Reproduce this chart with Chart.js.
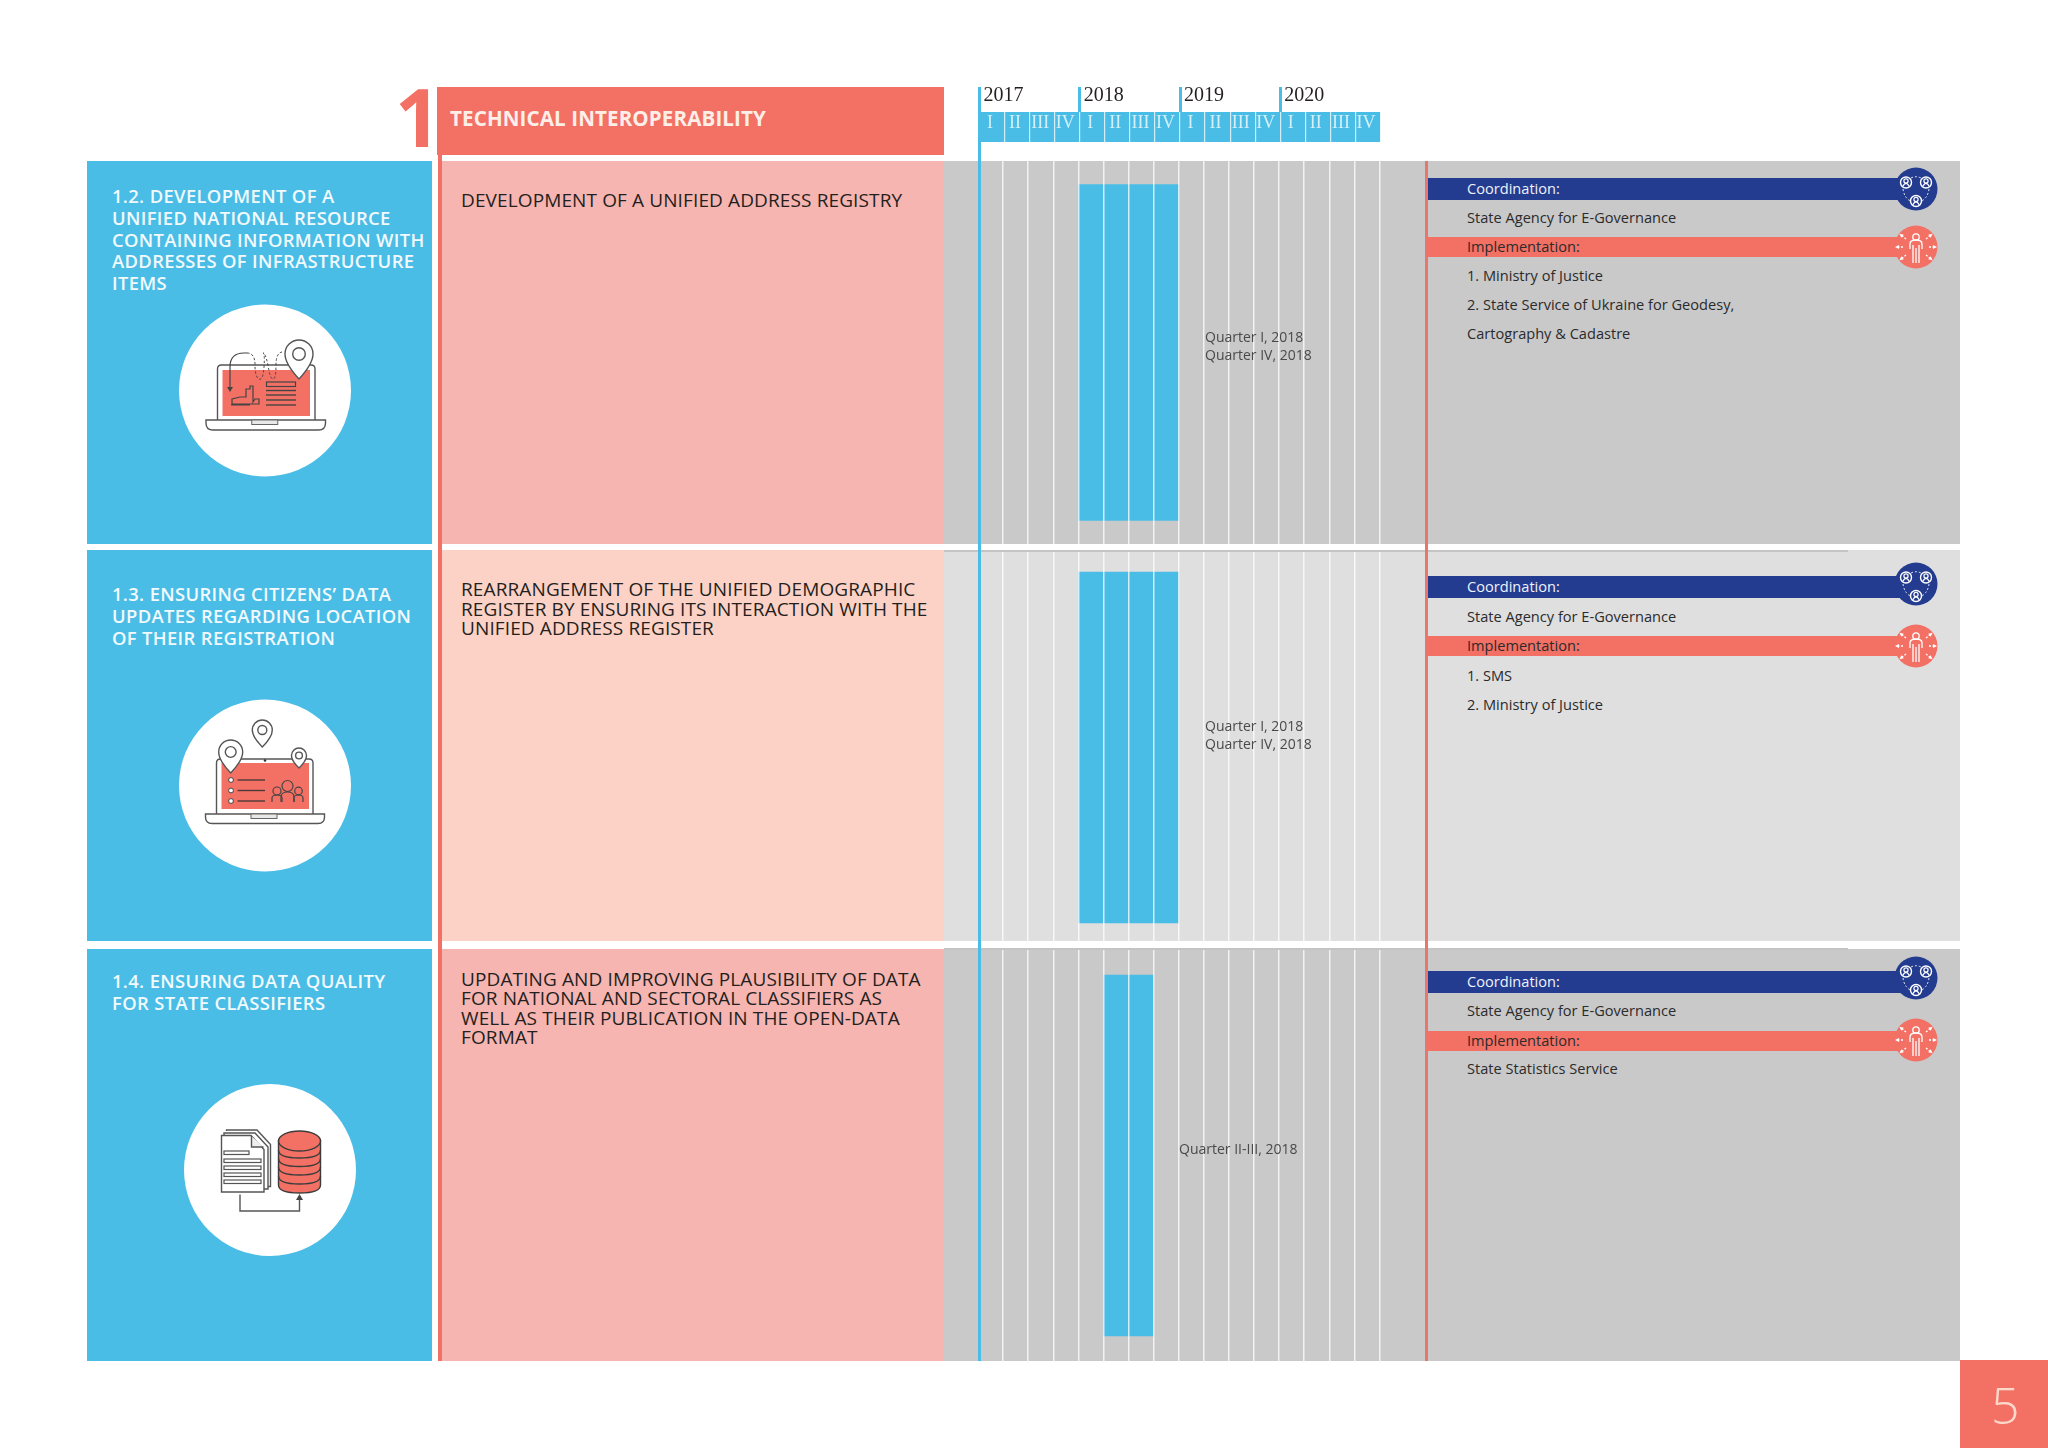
<!DOCTYPE html>
<html>
<head>
<meta charset="utf-8">
<title>Technical interoperability</title>
<script src="https://cdn.jsdelivr.net/npm/chart.js@4"></script>
<style>
html, body { margin: 0; padding: 0; background: #fff; }
#page { position: relative; width: 2048px; height: 1448px; overflow: hidden; font-family: "Open Sans", sans-serif; }
.box { position: absolute; }
.txt { position: absolute; white-space: nowrap; transform: translateY(-50%); line-height: 1; z-index: 2; }
.title { color: #f2fafd; font-size: 18.4px; font-weight: 600; letter-spacing: 0.35px; }
.task { color: #231f20; font-size: 19px; letter-spacing: 0.12px; }
.body { color: #2b2b2b; font-size: 14.6px; margin-top: -1px; }
.head-blue { color: #eef3fb; font-size: 14.6px; margin-top: -1px; }
.note { color: #4a4a4a; font-size: 14px; }
canvas { position: absolute; }
svg { position: absolute; left: 0; top: 0; z-index: 2; }
</style>
</head>
<body>
<div id="page"></div>
<script>
// Timeline
const years = ['2017', '2018', '2019', '2020'];
const quarterLabels = ['I', 'II', 'III', 'IV', 'I', 'II', 'III', 'IV', 'I', 'II', 'III', 'IV', 'I', 'II', 'III', 'IV'];

// Start / end of each activity, in quarters counted from Q1 2017
const row1Span = [4, 8];
const row2Span = [4, 8];
const row3Span = [5, 7];

const row1Title = ['1.2. DEVELOPMENT OF A', 'UNIFIED NATIONAL RESOURCE', 'CONTAINING INFORMATION WITH', 'ADDRESSES OF INFRASTRUCTURE', 'ITEMS'];
const row2Title = ['1.3. ENSURING CITIZENS\u2019 DATA', 'UPDATES REGARDING LOCATION', 'OF THEIR REGISTRATION'];
const row3Title = ['1.4. ENSURING DATA QUALITY', 'FOR STATE CLASSIFIERS'];

const row1Task = ['DEVELOPMENT OF A UNIFIED ADDRESS REGISTRY'];
const row2Task = ['REARRANGEMENT OF THE UNIFIED DEMOGRAPHIC', 'REGISTER BY ENSURING ITS INTERACTION WITH THE', 'UNIFIED ADDRESS REGISTER'];
const row3Task = ['UPDATING AND IMPROVING PLAUSIBILITY OF DATA', 'FOR NATIONAL AND SECTORAL CLASSIFIERS AS', 'WELL AS THEIR PUBLICATION IN THE OPEN-DATA', 'FORMAT'];

const row1Notes = ['Quarter I, 2018', 'Quarter IV, 2018'];
const row2Notes = ['Quarter I, 2018', 'Quarter IV, 2018'];
const row3Notes = ['Quarter II-III, 2018'];

const coordination = ['State Agency for E-Governance'];
const row1Impl = ['1. Ministry of Justice', '2. State Service of Ukraine for Geodesy,', 'Cartography & Cadastre'];
const row2Impl = ['1. SMS', '2. Ministry of Justice'];
const row3Impl = ['State Statistics Service'];

const BLUE = '#49bde6';
const RED = '#f37065';
const NAVY = '#243c8f';
const page = document.getElementById('page');

function box(x, y, w, h, color) {
    let el = document.createElement('div');
    el.className = 'box';
    el.style.cssText = 'left:' + x + 'px;top:' + y + 'px;width:' + w + 'px;height:' + h + 'px;background:' + color;
    page.appendChild(el);
    return el;
}

function text(x, y, str, cls, extra) {
    let el = document.createElement('div');
    el.className = 'txt ' + cls;
    el.style.left = x + 'px';
    el.style.top = y + 'px';
    if (extra) el.style.cssText += extra;
    el.textContent = str;
    page.appendChild(el);
    return el;
}

function lines(x, y, step, arr, cls) {
    arr.forEach(function (s, i) { text(x, y + i * step, s, cls); });
}

// Backgrounds of the three rows
function rowBackground(top, bottom, pink, grey) {
    box(87, top, 345, bottom - top, BLUE);
    box(442, top, 502, bottom - top, pink);
    box(944, top, 1016, bottom - top, grey);
}
rowBackground(161, 544, '#f6b5b1', '#c9c9c9');
rowBackground(550, 941, '#fdd2c6', '#dfdfdf');
rowBackground(949, 1361, '#f6b5b1', '#c9c9c9');
box(944, 550, 904, 2, '#c4c4c4');
box(944, 948, 904, 2, '#c4c4c4');

// Section header
box(437, 87, 507, 68, RED);
box(438, 155, 4, 1206, RED);
text(395, 116, '1', '', 'font-size:80px;font-weight:700;color:' + RED);
text(450, 118, 'TECHNICAL INTEROPERABILITY', '', 'font-size:20.6px;font-weight:700;color:#fdeee8;letter-spacing:0.1px');

lines(112, 196, 21.8, row1Title, 'title');
lines(112, 594, 21.8, row2Title, 'title');
lines(112, 981, 21.8, row3Title, 'title');

lines(461, 200, 19.5, row1Task, 'task');
lines(461, 589, 19.5, row2Task, 'task');
lines(461, 978.5, 19.5, row3Task, 'task');

lines(1205, 337, 17.5, row1Notes, 'note');
lines(1205, 726, 17.5, row2Notes, 'note');
lines(1179, 1149, 17.5, row3Notes, 'note');

// Right hand column: coordination and implementation bands
function actors(blueTop, redTop, coordY, implY, impl) {
    box(1427, blueTop, 489, 22, NAVY);
    box(1427, redTop, 489, 20, RED);
    text(1467, blueTop + 11, 'Coordination:', 'head-blue');
    lines(1467, coordY, 29, coordination, 'body');
    text(1467, redTop + 10, 'Implementation:', 'body');
    lines(1467, implY, 29, impl, 'body');
}
actors(178, 237, 217.5, 276, row1Impl);
actors(576, 636, 617, 675.5, row2Impl);
actors(971, 1031, 1011, 1069, row3Impl);

// Page number
box(1960, 1360, 88, 88, RED);
text(1991, 1405, '5', '', 'font-size:50px;font-weight:300;color:#fdd9cb');

// Icons
function person(x, y, r, c) {
    return '<circle cx="' + x + '" cy="' + y + '" r="' + r + '" fill="none" stroke="' + c + '" stroke-width="1.4"/>' +
        '<circle cx="' + x + '" cy="' + (y - 1.5) + '" r="' + (r * 0.38) + '" fill="none" stroke="' + c + '" stroke-width="1.2"/>' +
        '<path d="M' + (x - r * 0.6) + ' ' + (y + r * 0.7) + 'q' + (r * 0.6) + ' ' + (-r * 1.1) + ' ' + (r * 1.2) + ' 0" fill="none" stroke="' + c + '" stroke-width="1.2"/>';
}
function navyBadge(cy) {
    return '<circle cx="1916" cy="' + cy + '" r="21.5" fill="' + NAVY + '"/>' +
        person(1906, cy - 6.5, 5.5, '#fff') + person(1926, cy - 6.5, 5.5, '#fff') + person(1916, cy + 12, 5.5, '#fff') +
        '<path d="M1911 ' + (cy - 11) + 'q5 -2.5 10 0M1903 ' + (cy) + 'q1 8 7 12M1929 ' + (cy) + 'q-1 8 -7 12" fill="none" stroke="#dfe6f6" stroke-width="1" stroke-dasharray="2 2"/>';
}
function redBadge(cy) {
    let c = '#fff';
    let arrows = '';
    [[-19, 0, -13, 0], [19, 0, 13, 0], [-15, -12, -10, -8], [15, -12, 10, -8], [-15, 12, -10, 8], [15, 12, 10, 8]].forEach(function (a) {
        let dx = a[0] - a[2], dy = a[1] - a[3];
        let len = Math.sqrt(dx * dx + dy * dy);
        dx /= len;
        dy /= len;
        let tx = 1916 + a[0], ty = cy + a[1];
        arrows += '<path d="M' + (1916 + a[2]) + ' ' + (cy + a[3]) + 'L' + tx + ' ' + ty + '" stroke="' + c + '" stroke-width="1.3" stroke-dasharray="2 1.5" fill="none"/>' +
            '<path d="M' + (tx + dx * 2) + ' ' + (ty + dy * 2) + 'L' + (tx - dx * 2 - dy * 2) + ' ' + (ty - dy * 2 + dx * 2) + 'L' + (tx - dx * 2 + dy * 2) + ' ' + (ty - dy * 2 - dx * 2) + 'z" fill="' + c + '"/>';
    });
    return '<circle cx="1916" cy="' + cy + '" r="21.5" fill="' + RED + '"/>' + arrows +
        '<circle cx="1916" cy="' + (cy - 10) + '" r="3.2" fill="none" stroke="' + c + '" stroke-width="1.3"/>' +
        '<path d="M1910 ' + (cy + 2) + 'v-5q0 -4 6 -4t6 4v5M1913 ' + (cy - 2) + 'v18M1916 ' + (cy + 1) + 'v15M1919 ' + (cy - 2) + 'v18" fill="none" stroke="' + c + '" stroke-width="1.3"/>';
}
function pin(x, y, r, tip) {
    return '<path d="M' + (x - r) + ' ' + y + 'a' + r + ' ' + r + ' 0 1 1 ' + (2 * r) + ' 0q0 ' + (r * 0.7) + ' ' + (-r) + ' ' + (tip - y) + 'q' + (-r) + ' ' + (-(tip - y) + r * 0.7) + ' ' + (-r) + ' ' + (-(tip - y)) + 'z" fill="#fff" stroke="#555" stroke-width="1.4"/>' +
        '<circle cx="' + x + '" cy="' + y + '" r="' + (r * 0.45) + '" fill="#fff" stroke="#555" stroke-width="1.4"/>';
}
function laptop(x1, x2, top, redX1, redX2, redTop, redBottom, baseX1, baseX2, baseTop, baseBottom) {
    let mid = (baseX1 + baseX2) / 2 - 1;
    return '<path d="M' + x1 + ' ' + baseTop + 'V' + (top + 4) + 'q0 -4 4 -4H' + (x2 - 4) + 'q4 0 4 4V' + baseTop + '" fill="#fff" stroke="#555" stroke-width="1.4"/>' +
        '<rect x="' + redX1 + '" y="' + redTop + '" width="' + (redX2 - redX1) + '" height="' + (redBottom - redTop) + '" fill="' + RED + '"/>' +
        '<path d="M' + baseX1 + ' ' + baseTop + 'H' + baseX2 + 'v3q0 ' + (baseBottom - baseTop - 3) + ' -' + (baseBottom - baseTop - 3) + ' ' + (baseBottom - baseTop - 3) + 'H' + (baseX1 + baseBottom - baseTop - 3) + 'q-' + (baseBottom - baseTop - 3) + ' 0 -' + (baseBottom - baseTop - 3) + ' -' + (baseBottom - baseTop - 3) + 'z" fill="#fff" stroke="#555" stroke-width="1.4"/>' +
        '<rect x="' + (mid - 13) + '" y="' + baseTop + '" width="26" height="4.5" fill="#e8e8e8" stroke="#666" stroke-width="1"/>';
}
function hlines(x1, x2, ys, c) {
    let s = '';
    ys.forEach(function (y) { s += '<path d="M' + x1 + ' ' + y + 'H' + x2 + '" stroke="' + c + '" stroke-width="1.4"/>'; });
    return s;
}

let svg = '<svg width="2048" height="1448" viewBox="0 0 2048 1448">';
// circle 1
svg += '<circle cx="265" cy="390.5" r="86" fill="#fff"/>';
svg += laptop(217.5, 315, 365, 222.5, 310, 370, 416, 206, 325.5, 420, 430);
svg += '<path d="M247 353H244q-14 0 -14 14V388" fill="none" stroke="#444" stroke-width="1.2"/><path d="M227 387h6l-3 5z" fill="#444"/>';
svg += '<path d="M247 353q8 0 8 12t4 14t5 -12t-1 -14q2 -1 5 12q2 14 5 14q3 0 3 -14q0 -12 6 -13" fill="none" stroke="#444" stroke-width="1" stroke-dasharray="2.5 2"/>';
svg += '<path d="M232 404v-5l8 -2h6v-8h4v-3h3v16l2 -3h4v5zM231 405h19" fill="none" stroke="#444" stroke-width="1.2"/>';
svg += '<rect x="266.5" y="382" width="29" height="4.5" fill="none" stroke="#444" stroke-width="1.2"/>' + hlines(266, 296, [390.5, 395, 400, 405], '#444');
svg += pin(299, 354, 14, 379);
// circle 2
svg += '<circle cx="265" cy="785.5" r="86" fill="#fff"/>';
svg += laptop(216.5, 313, 759, 221.5, 309, 763, 809, 205.5, 324.5, 814, 823.5);
svg += hlines(237.5, 265, [780, 790.5, 801], '#4a3a3a');
[780, 790.5, 801].forEach(function (y) { svg += '<circle cx="231" cy="' + y + '" r="2.4" fill="#fff" stroke="#444"/>'; });
svg += '<circle cx="277" cy="791" r="4" fill="none" stroke="#444" stroke-width="1.2"/><path d="M272 802v-4q0 -3 5 -3t5 3v4" fill="none" stroke="#444" stroke-width="1.2"/>';
svg += '<circle cx="287.5" cy="786" r="5.5" fill="none" stroke="#444" stroke-width="1.2"/><path d="M281 802v-5q0 -5 6.5 -5t6.5 5v5" fill="none" stroke="#444" stroke-width="1.2"/>';
svg += '<circle cx="298.5" cy="791" r="3.8" fill="none" stroke="#444" stroke-width="1.2"/><path d="M294 802v-4q0 -3 4.5 -3t4.5 3v4" fill="none" stroke="#444" stroke-width="1.2"/>';
svg += pin(230.7, 752, 12, 773) + pin(262.3, 730, 10, 747) + pin(299, 755.5, 7.5, 768);
svg += '<circle cx="265" cy="760.5" r="1.3" fill="#333"/>';
// circle 3
svg += '<circle cx="270" cy="1170" r="86" fill="#fff"/>';
svg += '<path d="M226.5 1131v-1H257l13.5 14.5v42h-3" fill="#fff" stroke="#555" stroke-width="1.4"/>';
svg += '<path d="M224 1135v-2h31l13 14v42h-4" fill="#fff" stroke="#555" stroke-width="1.4"/>';
svg += '<path d="M221.5 1135.5H251l13 14v42.5H221.5z" fill="#fff" stroke="#555" stroke-width="1.4"/><path d="M251.5 1136v11h12" fill="#eee" stroke="#555" stroke-width="1.4"/>';
[[224, 249, 1151], [224, 261, 1159], [224, 261, 1166], [224, 261, 1173], [224, 261, 1180]].forEach(function (l) {
    svg += '<rect x="' + l[0] + '" y="' + (l[2]) + '" width="' + (l[1] - l[0]) + '" height="3.5" fill="#fff" stroke="#555" stroke-width="1.2"/>';
});
svg += '<path d="M278.5 1141v44q0 8 21 8t21 -8v-44z" fill="' + RED + '" stroke="#3c3c3c" stroke-width="1.4"/>';
svg += '<ellipse cx="299.5" cy="1141" rx="21" ry="10" fill="' + RED + '" stroke="#3c3c3c" stroke-width="1.4"/>';
[1150, 1158.5, 1167, 1176].forEach(function (y) {
    svg += '<path d="M278.5 ' + y + 'q0 8 21 8t21 -8" fill="none" stroke="#3c3c3c" stroke-width="1.4"/>';
});
svg += '<path d="M240 1194.5V1211H299.5V1198" fill="none" stroke="#555" stroke-width="1.4"/><path d="M296 1200h7l-3.5 -6z" fill="#444"/>';
svg += navyBadge(189) + redBadge(247) + navyBadge(584) + redBadge(646) + navyBadge(978) + redBadge(1040);
svg += '</svg>';
page.insertAdjacentHTML('beforeend', svg);

// Charts
function newCanvas(x, y, w, h) {
    let c = document.createElement('canvas');
    c.width = w;
    c.height = h;
    c.style.left = x + 'px';
    c.style.top = y + 'px';
    c.style.width = w + 'px';
    c.style.height = h + 'px';
    page.appendChild(c);
    return c;
}

// Fills the plot area, giving the coloured strip behind the quarter labels
const bandPlugin = {
    id: 'band',
    beforeDraw: function (chart) {
        let a = chart.chartArea;
        chart.ctx.fillStyle = BLUE;
        chart.ctx.fillRect(a.left, a.top, a.right - a.left, a.bottom - a.top);
    }
};

new Chart(newCanvas(970, 80, 420, 70), {
    type: 'bar',
    data: { labels: quarterLabels, datasets: [] },
    plugins: [bandPlugin],
    options: {
        responsive: false,
        animation: false,
        layout: { padding: { top: 32, bottom: 8, left: 9.5, right: 9.5 } },
        plugins: { legend: { display: false }, tooltip: { enabled: false } },
        scales: {
            x: {
                type: 'category',
                position: 'bottom',
                offset: true,
                border: { display: false },
                grid: { color: 'rgba(255,255,255,0.75)', lineWidth: 1.2, drawTicks: false, offset: true },
                // mirrored so the labels sit inside the strip and are not clipped to the axis box
                ticks: { color: '#d3f0fa', font: { family: 'Liberation Serif', size: 18 }, mirror: true, padding: 8, labelOffset: -2, autoSkip: false, maxRotation: 0 },
                afterFit: function (s) { s.height = 0; }
            },
            years: {
                type: 'linear',
                position: 'top',
                min: 0,
                max: 16,
                offset: false,
                border: { display: false },
                grid: {
                    offset: false,
                    drawOnChartArea: false,
                    tickLength: 25,
                    tickWidth: 3,
                    tickColor: function (ctx) { return ctx.tick && ctx.tick.value === 16 ? 'transparent' : BLUE; }
                },
                ticks: {
                    stepSize: 4,
                    align: 'start',
                    labelOffset: 4,
                    mirror: true,
                    padding: -28.6,
                    color: '#231f20',
                    font: { family: 'Liberation Serif', size: 20 },
                    maxRotation: 0,
                    callback: function (v) { return years[v / 4] || ''; }
                },
                afterFit: function (s) { s.height = 0; }
            },
            y: { display: false }
        }
    }
});

function ganttRow(label, span, top, height, thickness) {
    return new Chart(newCanvas(968, top, 420, height), {
        type: 'bar',
        data: {
            labels: [label],
            datasets: [{ data: [span], backgroundColor: BLUE, barThickness: thickness }]
        },
        options: {
            indexAxis: 'y',
            responsive: false,
            animation: false,
            layout: { padding: { left: 10, right: 8.5 } },
            plugins: { legend: { display: false }, tooltip: { enabled: false } },
            scales: {
                x: {
                    type: 'linear',
                    min: 0,
                    max: 16,
                    border: { display: false },
                    grid: {
                        z: 1,
                        drawTicks: false,
                        lineWidth: 1.5,
                        color: function (ctx) { return ctx.tick && ctx.tick.value === 0 ? 'transparent' : 'rgba(255,255,255,0.75)'; }
                    },
                    ticks: { display: false, stepSize: 1 }
                },
                y: { display: false }
            }
        }
    });
}
ganttRow('1.2', row1Span, 161, 383, 336);
ganttRow('1.3', row2Span, 552, 391, 351);
ganttRow('1.4', row3Span, 950, 411, 361);

// Vertical rules run over the rows
box(978, 87, 3, 1274, BLUE);
box(1424.5, 161, 3, 1200, '#e8766c');
</script>
</body>
</html>
